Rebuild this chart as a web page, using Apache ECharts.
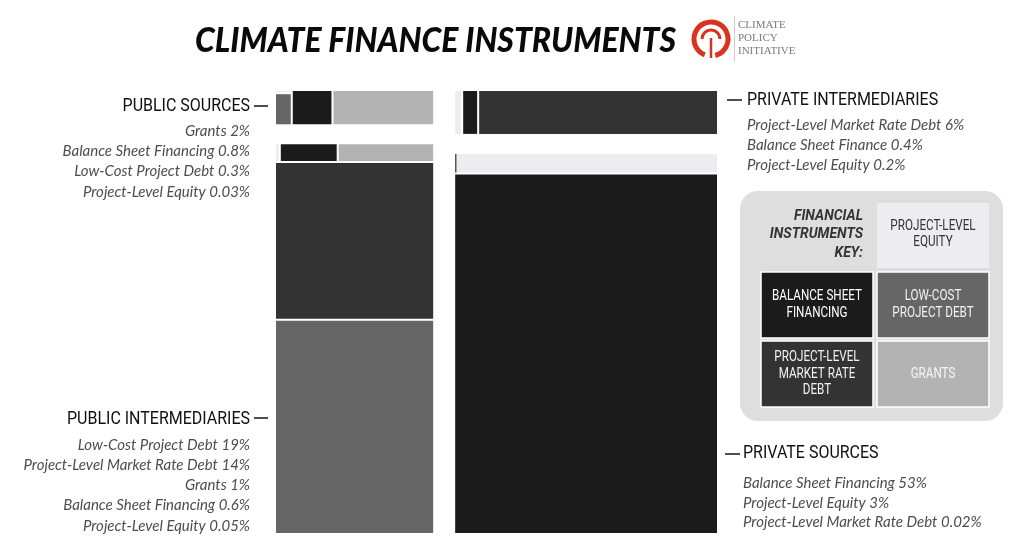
<!DOCTYPE html>
<html>
<head>
<meta charset="utf-8">
<script src="https://cdn.jsdelivr.net/npm/echarts@6/dist/echarts.min.js"></script>
<style>html,body{margin:0;padding:0;background:#fff}#c{width:1024px;height:550px}</style>
</head>
<body>
<div id="c"></div>
<script>
// ---- data ----
const instrumentKinds = ['EQ', 'BSF', 'LCD', 'MRD', 'GR'];
const instrumentKeyLabels = ['PROJECT-LEVEL\nEQUITY', 'BALANCE SHEET\nFINANCING', 'LOW-COST\nPROJECT DEBT', 'PROJECT-LEVEL\nMARKET RATE\nDEBT', 'GRANTS'];

const publicSourcesNames = ['Grants', 'Balance Sheet Financing', 'Low-Cost Project Debt', 'Project-Level Equity'];
const publicSourcesKinds = ['GR', 'BSF', 'LCD', 'EQ'];
const publicSourcesValues = [2, 0.8, 0.3, 0.03];

const publicIntermediariesNames = ['Low-Cost Project Debt', 'Project-Level Market Rate Debt', 'Grants', 'Balance Sheet Financing', 'Project-Level Equity'];
const publicIntermediariesKinds = ['LCD', 'MRD', 'GR', 'BSF', 'EQ'];
const publicIntermediariesValues = [19, 14, 1, 0.6, 0.05];

const privateIntermediariesNames = ['Project-Level Market Rate Debt', 'Balance Sheet Finance', 'Project-Level Equity'];
const privateIntermediariesKinds = ['MRD', 'BSF', 'EQ'];
const privateIntermediariesValues = [6, 0.4, 0.2];

const privateSourcesNames = ['Balance Sheet Financing', 'Project-Level Equity', 'Project-Level Market Rate Debt'];
const privateSourcesKinds = ['BSF', 'EQ', 'MRD'];
const privateSourcesValues = [53, 3, 0.02];

// ---- styling ----
const kindColors = { EQ: '#ededf1', BSF: '#1b1b1b', LCD: '#666666', MRD: '#333333', GR: '#b3b3b3' };
const kindTextColors = { EQ: '#333333', BSF: '#ffffff', LCD: '#f2f2f2', MRD: '#f2f2f2', GR: '#f5f5f5' };
const HEAD_FONT = 'Roboto, "Open Sans", sans-serif';
const ITAL_FONT = 'Lato, "Open Sans", sans-serif';

const mctx = document.createElement('canvas').getContext('2d');
function measure(text, font) { mctx.font = font; return mctx.measureText(text).width; }

// ---- mosaic layout (arrangement of each block, leaves are indexes) ----
const recipes = {
  ps: { dir: 'h', children: [{ dir: 'v', children: [3, 2] }, 1, 0] },
  pi: { dir: 'v', children: [{ dir: 'h', children: [4, 3, 2] }, 1, 0] },
  pri: { dir: 'h', children: [2, 1, 0] },
  prs: { dir: 'v', children: [{ dir: 'h', children: [2, 1] }, 0] }
};
const sum = a => a.reduce((s, v) => s + v, 0);
function nodeSum(node, vals) {
  return typeof node === 'number' ? vals[node] : node.children.reduce((s, c) => s + nodeSum(c, vals), 0);
}
function layout(node, vals, kinds, x0, y0, x1, y1, out) {
  if (typeof node === 'number') { out.push([x0, y0, x1, y1, instrumentKinds.indexOf(kinds[node])]); return; }
  const tot = nodeSum(node, vals);
  let pos = node.dir === 'h' ? x0 : y0;
  node.children.forEach(ch => {
    const len = (node.dir === 'h' ? (x1 - x0) : (y1 - y0)) * nodeSum(ch, vals) / tot;
    if (node.dir === 'h') layout(ch, vals, kinds, pos, y0, pos + len, y1, out);
    else layout(ch, vals, kinds, x0, pos, x1, pos + len, out);
    pos += len;
  });
}
const psSum = sum(publicSourcesValues), piSum = sum(publicIntermediariesValues);
const priSum = sum(privateIntermediariesValues), prsSum = sum(privateSourcesValues);
const publicTotal = psSum + piSum, privateTotal = priSum + prsSum;
const xGap = 4.75, yGap = 4.23;
const rects = [];
const psH = 100 * psSum / publicTotal;
layout(recipes.ps, publicSourcesValues, publicSourcesKinds, 0, 0, publicTotal, psH, rects);
layout(recipes.pi, publicIntermediariesValues, publicIntermediariesKinds, 0, psH + yGap, publicTotal, 100 + yGap, rects);
const rx0 = publicTotal + xGap, rx1 = rx0 + privateTotal;
const priH = 100 * priSum / privateTotal;
layout(recipes.pri, privateIntermediariesValues, privateIntermediariesKinds, rx0, 0, rx1, priH, rects);
layout(recipes.prs, privateSourcesValues, privateSourcesKinds, rx0, priH + yGap, rx1, 100 + yGap, rects);

// ---- text graphics ----
const g = [];
function txt(text, x, y, opt, sx) {
  g.push({ type: 'text', x: x, y: y, scaleX: sx || 1, silent: true,
    style: Object.assign({ text: text, x: 0, y: 0, verticalAlign: 'middle' }, opt) });
}
function dash(x1, x2, y) {
  g.push({ type: 'line', silent: true, shape: { x1: x1, y1: y, x2: x2, y2: y }, style: { stroke: '#222', lineWidth: 1.6 } });
}
const headFont = '18px ' + HEAD_FONT;
const headScale = 183 / measure('PUBLIC INTERMEDIARIES', headFont);
function head(text, x, y, align) {
  txt(text, x, y, { align: align, font: headFont, fill: '#111' }, headScale);
}
const italFont = 'italic 15px ' + ITAL_FONT;
function lines(names, vals, x, y0, step, align) {
  names.forEach((n, i) => txt(n + ' ' + vals[i] + '%', x, y0 + i * step, { align: align, font: italFont, fill: '#4d4d4d' }));
}
head('PUBLIC SOURCES', 250, 106, 'right'); dash(254, 268, 106);
lines(publicSourcesNames, publicSourcesValues, 250, 131, 20.3, 'right');
head('PUBLIC INTERMEDIARIES', 250, 419, 'right'); dash(254, 268, 418);
lines(publicIntermediariesNames, publicIntermediariesValues, 250, 445, 20.2, 'right');
head('PRIVATE INTERMEDIARIES', 747, 100, 'left'); dash(727, 742, 100);
lines(privateIntermediariesNames, privateIntermediariesValues, 747, 125, 20, 'left');
head('PRIVATE SOURCES', 743, 453, 'left'); dash(725, 740, 454);
lines(privateSourcesNames, privateSourcesValues, 743, 483, 19.7, 'left');

// title + logo
const titleFont = 'italic 900 34px Lato, sans-serif';
const titleText = 'CLIMATE FINANCE INSTRUMENTS';
txt(titleText, 195, 41, { align: 'left', font: titleFont, fill: '#0a0a0a' }, 481 / measure(titleText, titleFont));
g.push({ type: 'arc', silent: true, shape: { cx: 711, cy: 39, r: 17, startAngle: Math.PI * 0.62, endAngle: Math.PI * 2.42 }, style: { stroke: '#d9321e', fill: null, lineWidth: 5 } });
g.push({ type: 'arc', silent: true, shape: { cx: 711, cy: 39, r: 9, startAngle: Math.PI * 1.0, endAngle: Math.PI * 2.0 }, style: { stroke: '#d9321e', fill: null, lineWidth: 3 } });
g.push({ type: 'line', silent: true, shape: { x1: 711, y1: 38, x2: 711, y2: 58 }, style: { stroke: '#d9321e', lineWidth: 2.5 } });
g.push({ type: 'line', silent: true, shape: { x1: 734.5, y1: 16, x2: 734.5, y2: 62 }, style: { stroke: '#cccccc', lineWidth: 1 } });
['CLIMATE', 'POLICY', 'INITIATIVE'].forEach((t, i) => txt(t, 738, 25 + i * 13, { align: 'left', font: '11px "Liberation Serif", serif', fill: '#7a7a7a' }));

// key box
g.push({ type: 'rect', silent: true, shape: { x: 740, y: 191, width: 263, height: 230, r: 18 }, style: { fill: '#dedede' } });
const keyHeadFont = 'italic bold 14px ' + HEAD_FONT;
const keyHeadScale = 69 / measure('FINANCIAL', keyHeadFont);
['FINANCIAL', 'INSTRUMENTS', 'KEY:'].forEach((t, i) => txt(t, 863, 216 + i * 18.5, { align: 'right', font: keyHeadFont, fill: '#333' }, keyHeadScale));
const keyCells = [[877, 203, 112, 65], [761, 272, 112, 66], [877, 272, 112, 66], [761, 341, 112, 66], [877, 341, 112, 66]];
const keyOrder = ['EQ', 'BSF', 'LCD', 'MRD', 'GR'];
const cellFont = '14px ' + HEAD_FONT;
const cellScale = 90 / measure('BALANCE SHEET', cellFont);
keyOrder.forEach((k, i) => {
  const c = keyCells[i];
  g.push({ type: 'rect', silent: true, shape: { x: c[0], y: c[1], width: c[2], height: c[3] },
    style: { fill: kindColors[k], stroke: k === 'EQ' ? null : '#ffffff', lineWidth: 1.5 } });
  txt(instrumentKeyLabels[instrumentKinds.indexOf(k)], c[0] + c[2] / 2, c[1] + c[3] / 2 + (k === 'EQ' ? -1 : 0),
    { align: 'center', font: cellFont, fill: kindTextColors[k], lineHeight: 16.5 }, cellScale);
});

const chart = echarts.init(document.getElementById('c'), null, { renderer: 'canvas' });
chart.setOption({
  animation: false,
  backgroundColor: '#ffffff',
  grid: { left: 275, right: 306, top: 90, bottom: 16 },
  xAxis: { type: 'value', min: 0, max: publicTotal + xGap + privateTotal, show: false },
  yAxis: { type: 'value', min: 0, max: 100 + yGap, inverse: true, show: false },
  series: [{
    type: 'custom',
    data: rects,
    encode: { x: [0, 2], y: [1, 3] },
    renderItem: function (params, api) {
      const a = api.coord([api.value(0), api.value(1)]);
      const b = api.coord([api.value(2), api.value(3)]);
      const x = Math.min(a[0], b[0]), y = Math.min(a[1], b[1]);
      const w = Math.abs(b[0] - a[0]), h = Math.abs(b[1] - a[1]);
      return { type: 'rect', shape: { x: x + 1, y: y + 1, width: Math.max(w - 2, 1.3), height: Math.max(h - 2, 1.3) },
        style: { fill: kindColors[instrumentKinds[api.value(4)]] } };
    }
  }],
  graphic: g
});
</script>
</body>
</html>
